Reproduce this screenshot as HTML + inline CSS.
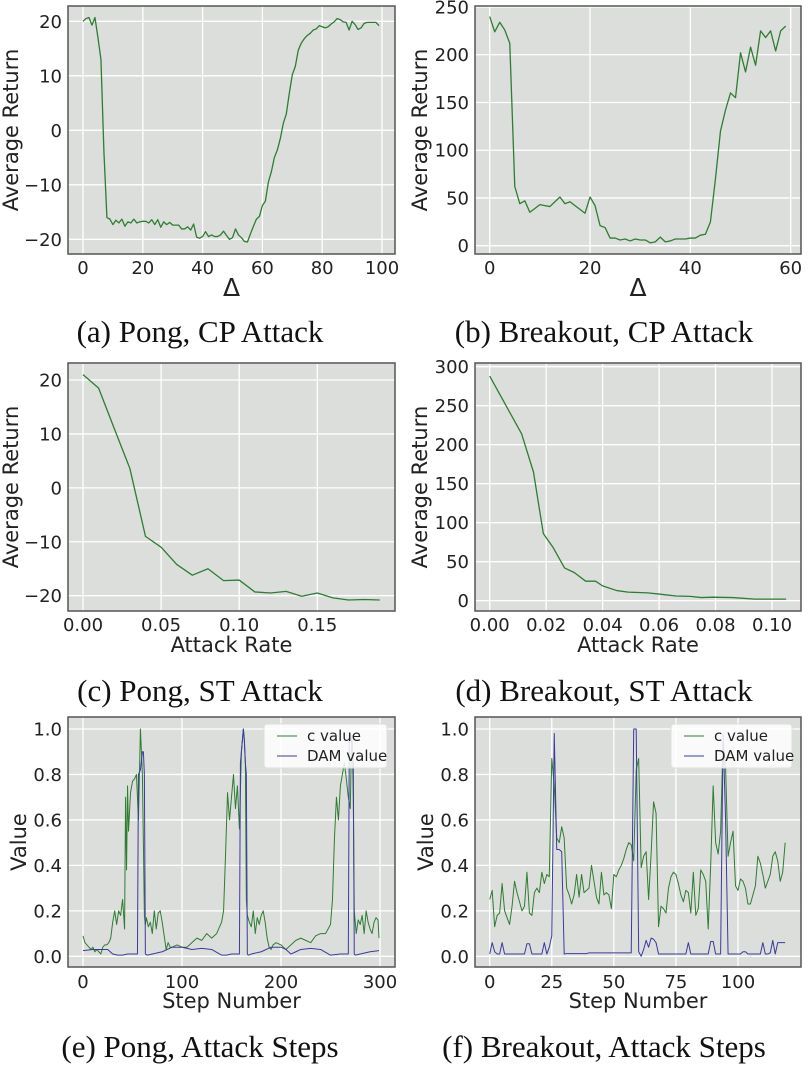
<!DOCTYPE html>
<html><head><meta charset="utf-8"><style>
html,body{margin:0;padding:0;background:#fff;}
svg{display:block;}
.tk{font-family:"DejaVu Sans","Liberation Sans",sans-serif;font-size:18px;fill:#222;}
.al{font-family:"DejaVu Sans","Liberation Sans",sans-serif;font-size:21px;fill:#222;}
.cap{font-family:"Liberation Serif",serif;font-size:31px;fill:#111;}
.lg{font-family:"DejaVu Sans","Liberation Sans",sans-serif;font-size:15px;fill:#222;}
</style></head><body>
<svg id="fig" width="808" height="1065" viewBox="0 0 808 1065" xmlns="http://www.w3.org/2000/svg">
<rect width="808" height="1065" fill="#fff"/>
<text class="cap" x="200" y="342" text-anchor="middle">(a) Pong, CP Attack</text>
<text class="cap" x="604" y="342" text-anchor="middle">(b) Breakout, CP Attack</text>
<text class="cap" x="200" y="701" text-anchor="middle">(c) Pong, ST Attack</text>
<text class="cap" x="604" y="701" text-anchor="middle">(d) Breakout, ST Attack</text>
<text class="cap" x="200" y="1057" text-anchor="middle">(e) Pong, Attack Steps</text>
<text class="cap" x="604" y="1057" text-anchor="middle">(f)  Breakout, Attack Steps</text>
</svg>
<script>
// ---- data ----
const aY=[20,20.5,20.7,19.3,20.7,17,13,-4,-16,-16.3,-17.3,-16.5,-17,-16.3,-17.6,-16.8,-17,-16.3,-17,-16.8,-16.7,-16.7,-17,-16.4,-17.3,-16.4,-17.8,-16.8,-17.3,-16.9,-17.4,-17.4,-17.4,-18.1,-18.1,-17.7,-18.3,-17.2,-19.6,-19.8,-19.5,-18.6,-19.5,-19.2,-19.5,-19.5,-19.2,-18.5,-19.3,-20,-19.7,-18.1,-19.2,-19.7,-20.4,-20.5,-19,-17.6,-16.3,-15.8,-13.8,-13,-9.5,-7.6,-5,-3.6,-1.5,1.3,3,6.8,10.2,11.7,14.7,16,16.8,17.4,17.8,18.4,18.6,19.2,19,18.8,19,19.5,19.9,20.5,20.3,19.9,19.8,18.4,20,19.4,18.5,18.8,19.6,19.8,19.8,19.8,19.8,19.2];
const bY=[240,224,234,226,212,62,44,47,35,39,43,42,41,46,51,44,46,42,38,34,51,42,21,19,8,8,6,7,5,7,6,6,3,4,9,4,5,7,7,7,8,8,11,12,25,70,120,142,160,155,202,182,208,189,225,218,225,204,225,230];
const cX=[0,0.01,0.02,0.03,0.04,0.05,0.06,0.07,0.08,0.09,0.10,0.11,0.12,0.13,0.14,0.15,0.16,0.17,0.18,0.19];
const cY=[21,18.5,11,3.6,-9,-11,-14.2,-16.2,-15,-17.2,-17.1,-19.3,-19.5,-19.2,-20.1,-19.5,-20.4,-20.8,-20.7,-20.8];
const dX=[0,0.0113,0.0155,0.019,0.0225,0.0265,0.03,0.034,0.0375,0.04,0.045,0.049,0.056,0.06,0.066,0.071,0.075,0.079,0.086,0.094,0.105];
const dY=[288,214,165,86,68,42,36,25,25,19,13,11,10,8.5,6,5.5,4,4.5,4,2,2];
const eX=[0,2,4,6,8,10,12,14,16,18,20,22,24,26,28,30,32,34,36,38,40,42,43,44,45,46,48,50,52,54,56,57,58,59,60,61,62,63,64,66,68,70,72,74,76,78,80,82,84,86,88,90,95,100,105,110,115,120,125,130,135,140,142,144,146,148,150,152,154,156,158,160,162,163,164,165,166,168,170,172,174,176,178,180,182,184,186,188,190,192,195,200,205,210,215,220,225,230,235,240,245,250,252,254,256,258,260,262,264,266,268,270,271,272,273,274,276,278,280,282,284,286,288,290,292,294,296,298,299];
const eC=[0.09,0.06,0.05,0.04,0.03,0.04,0.02,0.03,0.02,0.01,0.04,0.05,0.05,0.06,0.08,0.15,0.2,0.14,0.2,0.18,0.25,0.12,0.7,0.38,0.75,0.55,0.72,0.77,0.78,0.8,0.6,0.8,1.0,0.9,0.8,0.5,0.18,0.14,0.17,0.13,0.15,0.1,0.2,0.12,0.19,0.2,0.15,0.09,0.03,0.06,0.04,0.04,0.05,0.04,0.04,0.06,0.08,0.07,0.1,0.08,0.1,0.15,0.2,0.45,0.72,0.6,0.7,0.8,0.65,0.75,0.56,0.9,1.0,0.95,0.85,0.25,0.18,0.15,0.13,0.2,0.1,0.17,0.14,0.18,0.2,0.15,0.08,0.04,0.03,0.05,0.06,0.05,0.03,0.05,0.07,0.08,0.07,0.06,0.09,0.1,0.1,0.14,0.25,0.52,0.7,0.6,0.75,0.8,0.85,0.78,0.7,0.65,0.9,0.95,0.7,0.2,0.1,0.16,0.14,0.18,0.1,0.2,0.15,0.12,0.1,0.15,0.17,0.16,0.08];
const eDX=[0,10,20,25,30,35,40,45,50,54,55,56,58,60,61,62,63,65,70,80,90,100,110,120,130,140,145,150,155,157,158,159,160,162,163,164,165,166,167,170,180,190,200,205,210,215,220,230,240,250,260,265,267,268,269,271,272,273,274,275,280,290,299];
const eD=[0.025,0.03,0.03,0.03,0.01,0.005,0.005,0.01,0.01,0.01,0.01,0.8,0.82,0.9,0.9,0.8,0.01,0.005,0.01,0.02,0.04,0.04,0.03,0.035,0.03,0.005,0.005,0.01,0.01,0.01,0.01,0.85,0.9,1.0,0.95,0.85,0.8,0.01,0.005,0.01,0.02,0.04,0.04,0.03,0.01,0.02,0.03,0.035,0.03,0.005,0.01,0.01,0.01,0.01,0.97,0.97,0.9,0.85,0.01,0.005,0.01,0.02,0.025];
const fC=[.25,.29,.13,.18,.19,.32,.2,.17,.14,.22,.33,.28,.24,.2,.22,.37,.19,.18,.28,.3,.28,.37,.32,.36,.35,.87,.75,.52,.5,.57,.52,.3,.27,.23,.27,.36,.26,.36,.28,.29,.3,.4,.33,.26,.23,.37,.27,.28,.27,.21,.36,.35,.38,.4,.43,.47,.5,.49,.42,.82,.87,.39,.44,.46,.25,.45,.68,.63,.13,.22,.21,.19,.3,.35,.37,.36,.32,.27,.24,.29,.28,.19,.37,.18,.21,.38,.36,.33,.12,.4,.75,.5,.45,.55,.95,.83,.44,.5,.55,.31,.29,.34,.33,.3,.23,.23,.27,.31,.44,.41,.36,.3,.33,.36,.44,.46,.42,.33,.37,.5];
const fD=[.01,.06,.02,.01,.01,.06,.01,.01,.01,.01,.01,.01,.01,.01,.01,.055,.055,.01,.01,.01,.01,.01,.06,.01,.04,.09,.98,.47,.47,.46,.01,.012,.012,.012,.012,.012,.012,.012,.012,.012,.015,.015,.015,.015,.015,.015,.015,.015,.015,.015,.015,.015,.015,.015,.015,.015,.015,.015,1.0,1.0,.02,0,.03,.07,.04,.08,.075,.06,.01,.01,.01,.01,.01,.01,.01,.01,.01,.01,.01,.01,.06,.01,.01,.01,.01,.01,.01,.01,.01,.065,.065,.01,.01,.01,.98,.6,.01,.01,.01,.01,.01,.01,.02,.02,.01,.01,.01,.01,.01,.01,.06,.01,.01,.015,.07,.01,.06,.06,.06,.06];
const aXT=[0,20,40,60,80,100], aYT=[-20,-10,0,10,20];
const bXT=[0,20,40,60], bYT=[0,50,100,150,200,250];
const cXT=[0,0.05,0.10,0.15], cXL=["0.00","0.05","0.10","0.15"], cYT=[-20,-10,0,10,20];
const dXT=[0,0.02,0.04,0.06,0.08,0.10], dXL=["0.00","0.02","0.04","0.06","0.08","0.10"], dYT=[0,50,100,150,200,250,300];
const eXT=[0,100,200,300], eYT=[0,0.2,0.4,0.6,0.8,1.0], eYL=["0.0","0.2","0.4","0.6","0.8","1.0"];
const fXT=[0,25,50,75,100];
const legendLabels=["c value","DAM value"];

const NS="http://www.w3.org/2000/svg";
const svg=document.getElementById('fig');
function mk(tag,attrs,parent){const e=document.createElementNS(NS,tag);for(const k in attrs)e.setAttribute(k,attrs[k]);(parent||svg).appendChild(e);return e;}
function lin(v0,p0,v1,p1){return v=>p0+(v-v0)*(p1-p0)/(v1-v0);}
const idx=n=>Array.from({length:n},(_,i)=>i);

function panel(id,box,xs,ys,xt,xl,yt,yl,xlabel,ylabel,ylabX,xlabY,tickY){
  const g=mk('g',{});
  
  
  const bg=mk('rect',{x:box[0],y:box[1],width:box[2]-box[0],height:box[3]-box[1],fill:'#dcdedb'},g);
  
  
  xt.forEach((t,i)=>{const x=xs(t);
    const l=mk('line',{x1:x,x2:x,y1:box[1],y2:box[3],stroke:'#fff','stroke-width':1.3},g);
    
    
    const tx=mk('text',{class:'tk',x:x,y:tickY,'text-anchor':'middle'},g);tx.textContent=xl?xl[i]:String(t);
    
    });
  yt.forEach((t,i)=>{const y=ys(t);
    const l=mk('line',{x1:box[0],x2:box[2],y1:y,y2:y,stroke:'#fff','stroke-width':1.3},g);
    
    
    const tx=mk('text',{class:'tk',x:box[0]-6,y:y+6.5,'text-anchor':'end'},g);tx.textContent=yl?yl[i]:String(t).replace('-','\u2212');
    
    });
  const fr=mk('rect',{x:box[0],y:box[1],width:box[2]-box[0],height:box[3]-box[1],fill:'none',stroke:'#555','stroke-width':1.5},g);
  
  
  const xlT=mk('text',{class:'al',x:(box[0]+box[2])/2,y:xlabY,'text-anchor':'middle'},g);xlT.textContent=xlabel;
  if(xlabel==='\u0394')xlT.setAttribute('style','font-size:25px');
  
  
  const cy=(box[1]+box[3])/2;
  const ylT=mk('text',{class:'al',x:ylabX,y:cy,'text-anchor':'middle',transform:`rotate(-90 ${ylabX} ${cy})`},g);ylT.textContent=ylabel;
  
  
  return g;
}
function series(g,xs,ys,X,Y,color,w,name){
  const n=Math.min(X.length,Y.length);
  const d=idx(n).map(i=>(i?'L':'M')+xs(X[i]).toFixed(2)+' '+ys(Y[i]).toFixed(2)).join(' ');
  const p=mk('path',{d:d,fill:'none',stroke:color,'stroke-width':w,'stroke-linejoin':'round'},g);
  
  
}
function legend(g,x0,y0,w){
  const lg=mk('g',{},g);
  
  
  mk('rect',{x:x0,y:y0,width:w,height:44,rx:3,fill:'#fff','fill-opacity':0.85,stroke:'#ddd'},lg);
  const cols=['#2e7d32','#3b3b9e'];
  legendLabels.forEach((lab,i)=>{const y=y0+12+i*20;
    const e=mk('g',{},lg);
    
    
    mk('line',{x1:x0+13,x2:x0+33,y1:y,y2:y,stroke:cols[i],'stroke-width':1},e);
    const t=mk('text',{class:'lg',x:x0+43,y:y+5},e);t.textContent=lab;});
}
const GREEN='#2e7d32', BLUE='#3b3b9e';
// (a)
{const box=[68,6,395,254];const xs=lin(0,83,100,382),ys=lin(20,21.3,-20,239.3);
 const g=panel('a',box,xs,ys,aXT,null,aYT,null,'\u0394','Average Return',18,296,274);
 series(g,xs,ys,idx(aY.length),aY,GREEN,1.3,'line-pong-cp');}
// (b)
{const box=[475,6,801,254];const xs=lin(0,489.7,60,790.7),ys=lin(250,7,0,245.7);
 const g=panel('b',box,xs,ys,bXT,null,bYT,null,'\u0394','Average Return',427,296,274);
 series(g,xs,ys,idx(bY.length),bY,GREEN,1.3,'line-breakout-cp');}
// (c)
{const box=[68,363,395,611];const xs=lin(0,83,0.15,317.3),ys=lin(20,380,-20,595.7);
 const g=panel('c',box,xs,ys,cXT,cXL,cYT,null,'Attack Rate','Average Return',18,652,631);
 series(g,xs,ys,cX,cY,GREEN,1.3,'line-pong-st');}
// (d)
{const box=[475,363,801,611];const xs=lin(0,489.7,0.10,772),ys=lin(300,366.7,0,600.7);
 const g=panel('d',box,xs,ys,dXT,dXL,dYT,null,'Attack Rate','Average Return',427,652,631);
 series(g,xs,ys,dX,dY,GREEN,1.3,'line-breakout-st');}
// (e)
{const box=[68,717,395,967];const xs=lin(0,83,300,380),ys=lin(1,729,0,956.3);
 const g=panel('e',box,xs,ys,eXT,null,eYT,eYL,'Step Number','Value',26,1008,988);
 series(g,xs,ys,eX,eC,GREEN,1,'line-pong-c-value');
 series(g,xs,ys,eDX,eD,BLUE,1,'line-pong-dam-value');
 legend(g,264,724,123);}
// (f)
{const box=[475,717,801,967];const xs=lin(0,489.7,100,738),ys=lin(1,729,0,956.3);
 const g=panel('f',box,xs,ys,fXT,null,eYT,eYL,'Step Number','Value',433,1008,988);
 series(g,xs,ys,idx(fC.length),fC,GREEN,1,'line-breakout-c-value');
 series(g,xs,ys,idx(fD.length),fD,BLUE,1,'line-breakout-dam-value');
 legend(g,671,724,121);}
</script>
</body></html>
